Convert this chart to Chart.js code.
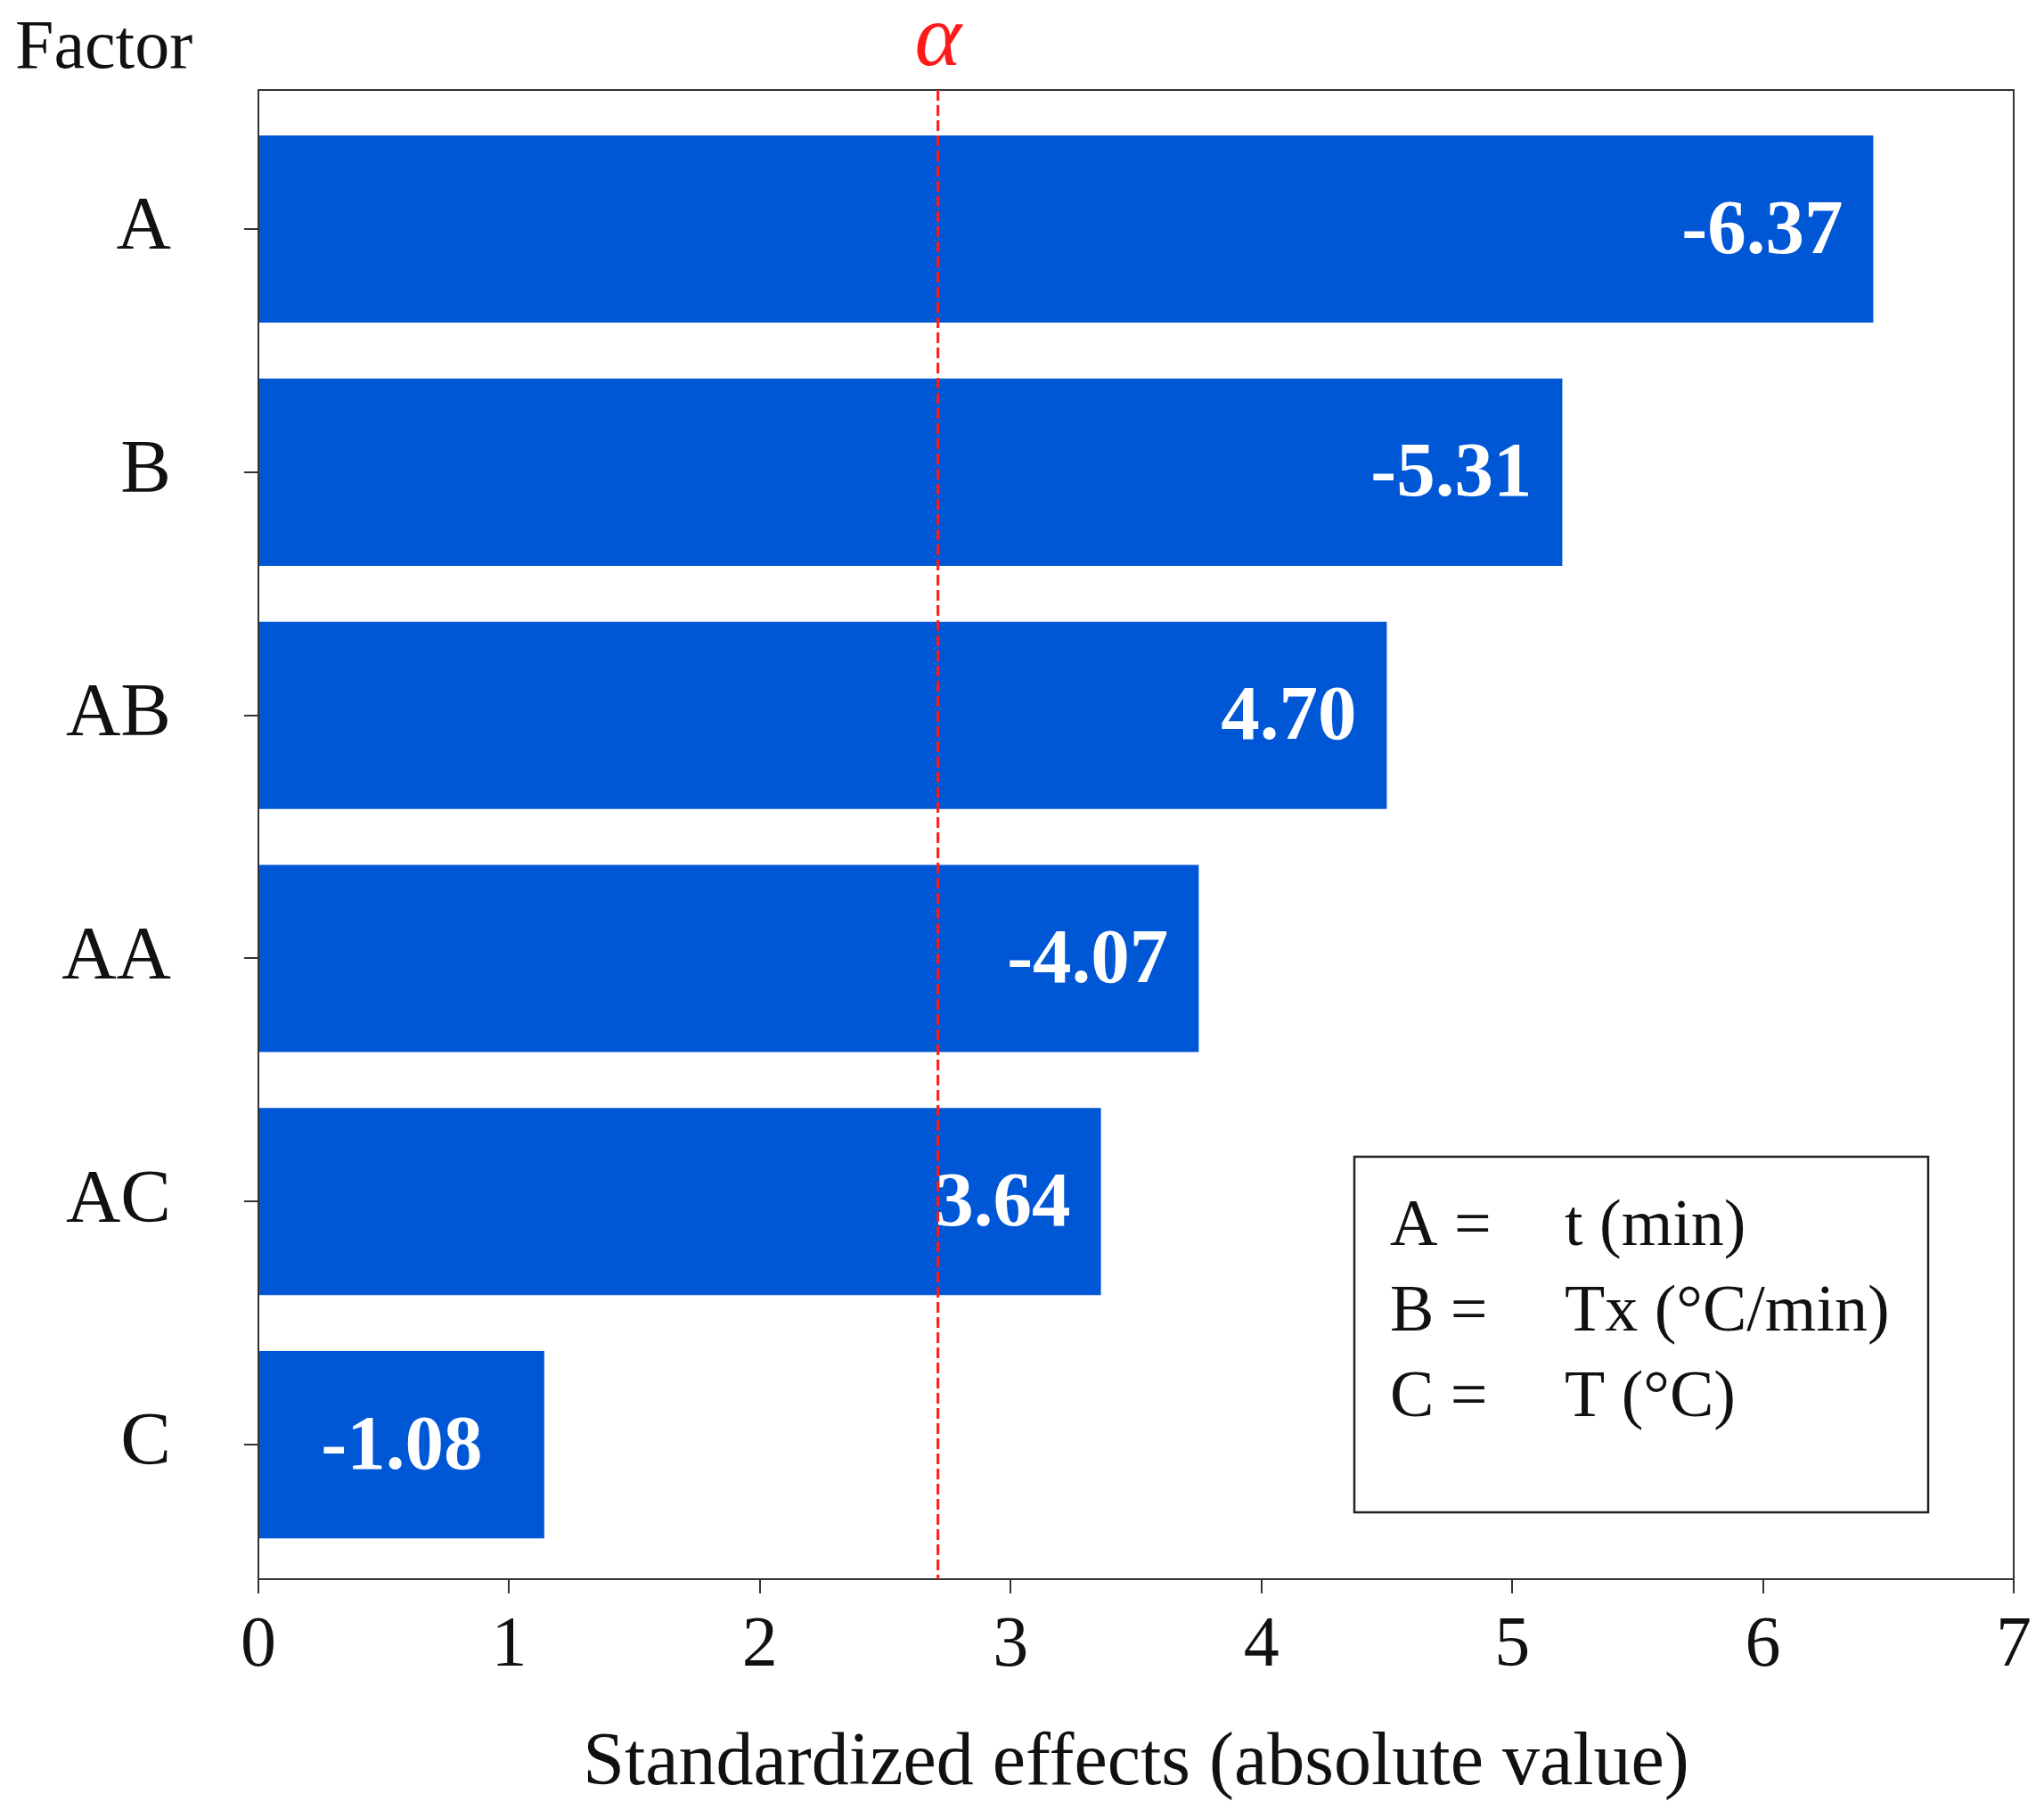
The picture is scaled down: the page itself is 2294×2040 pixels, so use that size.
<!DOCTYPE html>
<html>
<head>
<title>Pareto de efectos estandarizados</title>
<script src="https://cdn.jsdelivr.net/npm/chart.js"></script>
<style>
  html, body { margin: 0; padding: 0; background: #fff; }
  #wrap { width: 2294px; height: 2040px; }
</style>
</head>
<body>
<div id="wrap"><canvas id="pareto" width="2294" height="2040"></canvas></div>
<script>
// data
const factors = ['A', 'B', 'AB', 'AA', 'AC', 'C'];
const effects = [6.44, 5.20, 4.50, 3.75, 3.36, 1.14];
const effectLabels = ['-6.37', '-5.31', '4.70', '-4.07', '3.64', '-1.08'];
const xTicks = [0, 1, 2, 3, 4, 5, 6, 7];
const alphaValue = 2.71;
const legendKeys = ['A =', 'B =', 'C ='];
const legendNames = ['t (min)', 'Tx (°C/min)', 'T (°C)'];

const serif = "'Liberation Serif', 'Times New Roman', serif";
const ink = '#111';
const axisColor = '#333';
const barBlue = '#0057d6';

const barLabels = {
    id: 'barLabels',
    afterDatasetsDraw(chart) {
        const ctx = chart.ctx;
        const meta = chart.getDatasetMeta(0);
        ctx.save();
        ctx.font = 'bold 87px ' + serif;
        ctx.fillStyle = '#fff';
        ctx.textBaseline = 'middle';
        meta.data.forEach((bar, i) => {
            const text = effectLabels[i];
            const w = ctx.measureText(text).width;
            const barW = bar.x - bar.base;
            if (barW < w * 2) {
                ctx.textAlign = 'center';
                ctx.fillText(text, (bar.x + bar.base) / 2, bar.y + 4);
            } else {
                ctx.textAlign = 'right';
                ctx.fillText(text, bar.x - 34, bar.y + 4);
            }
        });
        ctx.restore();
    }
};

const overlay = {
    id: 'overlay',
    beforeDraw(chart) {
        const ctx = chart.ctx;
        ctx.save();
        ctx.fillStyle = '#fff';
        ctx.fillRect(0, 0, chart.width, chart.height);
        ctx.restore();
    },
    afterDraw(chart) {
        const ctx = chart.ctx;
        const area = chart.chartArea;
        const xs = chart.scales.x;
        ctx.save();

        // frame top / right
        ctx.strokeStyle = axisColor;
        ctx.lineWidth = 2;
        ctx.beginPath();
        ctx.moveTo(area.left, area.top);
        ctx.lineTo(area.right, area.top);
        ctx.lineTo(area.right, area.bottom);
        ctx.stroke();

        // alpha line
        const ax = xs.getPixelForValue(alphaValue);
        ctx.strokeStyle = '#ff1a1a';
        ctx.lineWidth = 3;
        ctx.setLineDash([12, 5]);
        ctx.beginPath();
        ctx.moveTo(ax, area.top);
        ctx.lineTo(ax, area.bottom);
        ctx.stroke();
        ctx.setLineDash([]);

        ctx.fillStyle = '#ff1a1a';
        ctx.font = 'italic 100px ' + serif;
        ctx.textAlign = 'center';
        ctx.textBaseline = 'alphabetic';
        ctx.fillText('α', ax, 73);

        // "Factor" header
        ctx.fillStyle = ink;
        ctx.font = '78px ' + serif;
        ctx.textAlign = 'left';
        ctx.fillText('Factor', 17, 76);

        // key box
        ctx.strokeStyle = '#222';
        ctx.lineWidth = 2.5;
        ctx.strokeRect(1520, 1298, 644, 399);
        ctx.font = '74px ' + serif;
        legendKeys.forEach((k, i) => {
            const y = 1397 + i * 96;
            ctx.fillText(k, 1560, y);
            ctx.fillText(legendNames[i], 1756, y);
        });

        ctx.restore();
    }
};

new Chart(document.getElementById('pareto'), {
    type: 'bar',
    data: {
        datasets: [{
            data: effects.map((v, i) => ({ x: v, y: i })),
            backgroundColor: barBlue,
            borderWidth: 0,
            barPercentage: 0.77,
            categoryPercentage: 1
        }]
    },
    options: {
        indexAxis: 'y',
        responsive: false,
        animation: false,
        layout: { padding: { top: 101, right: 34, bottom: 0, left: 0 } },
        plugins: { legend: { display: false }, tooltip: { enabled: false } },
        scales: {
            x: {
                type: 'linear',
                min: 0,
                max: 7,
                offset: false,
                afterBuildTicks: s => { s.ticks = xTicks.map(v => ({ value: v })); },
                ticks: { font: { family: serif, size: 80 }, color: ink, padding: 12 },
                grid: { drawOnChartArea: false, offset: false, tickLength: 16, color: axisColor, lineWidth: 2 },
                border: { color: axisColor, width: 2 },
                title: {
                    display: true,
                    text: 'Standardized effects (absolute value)',
                    font: { family: serif, size: 84 },
                    color: ink,
                    padding: { top: 0, bottom: 10 }
                },
                afterFit: s => { s.height = 268; }
            },
            y: {
                type: 'linear',
                reverse: true,
                min: -0.572,
                max: 5.553,
                offset: false,
                afterBuildTicks: s => { s.ticks = factors.map((f, i) => ({ value: i })); },
                ticks: { callback: v => factors[v], font: { family: serif, size: 85 }, color: ink, padding: 82 },
                grid: { drawOnChartArea: false, offset: false, tickLength: 16, color: axisColor, lineWidth: 2 },
                border: { color: axisColor, width: 2 },
                afterFit: s => {
                    s.width = 290;
                    s.paddingTop = 0;
                    s.paddingBottom = 0;
                }
            }
        }
    },
    plugins: [barLabels, overlay]
});
</script>
</body>
</html>
